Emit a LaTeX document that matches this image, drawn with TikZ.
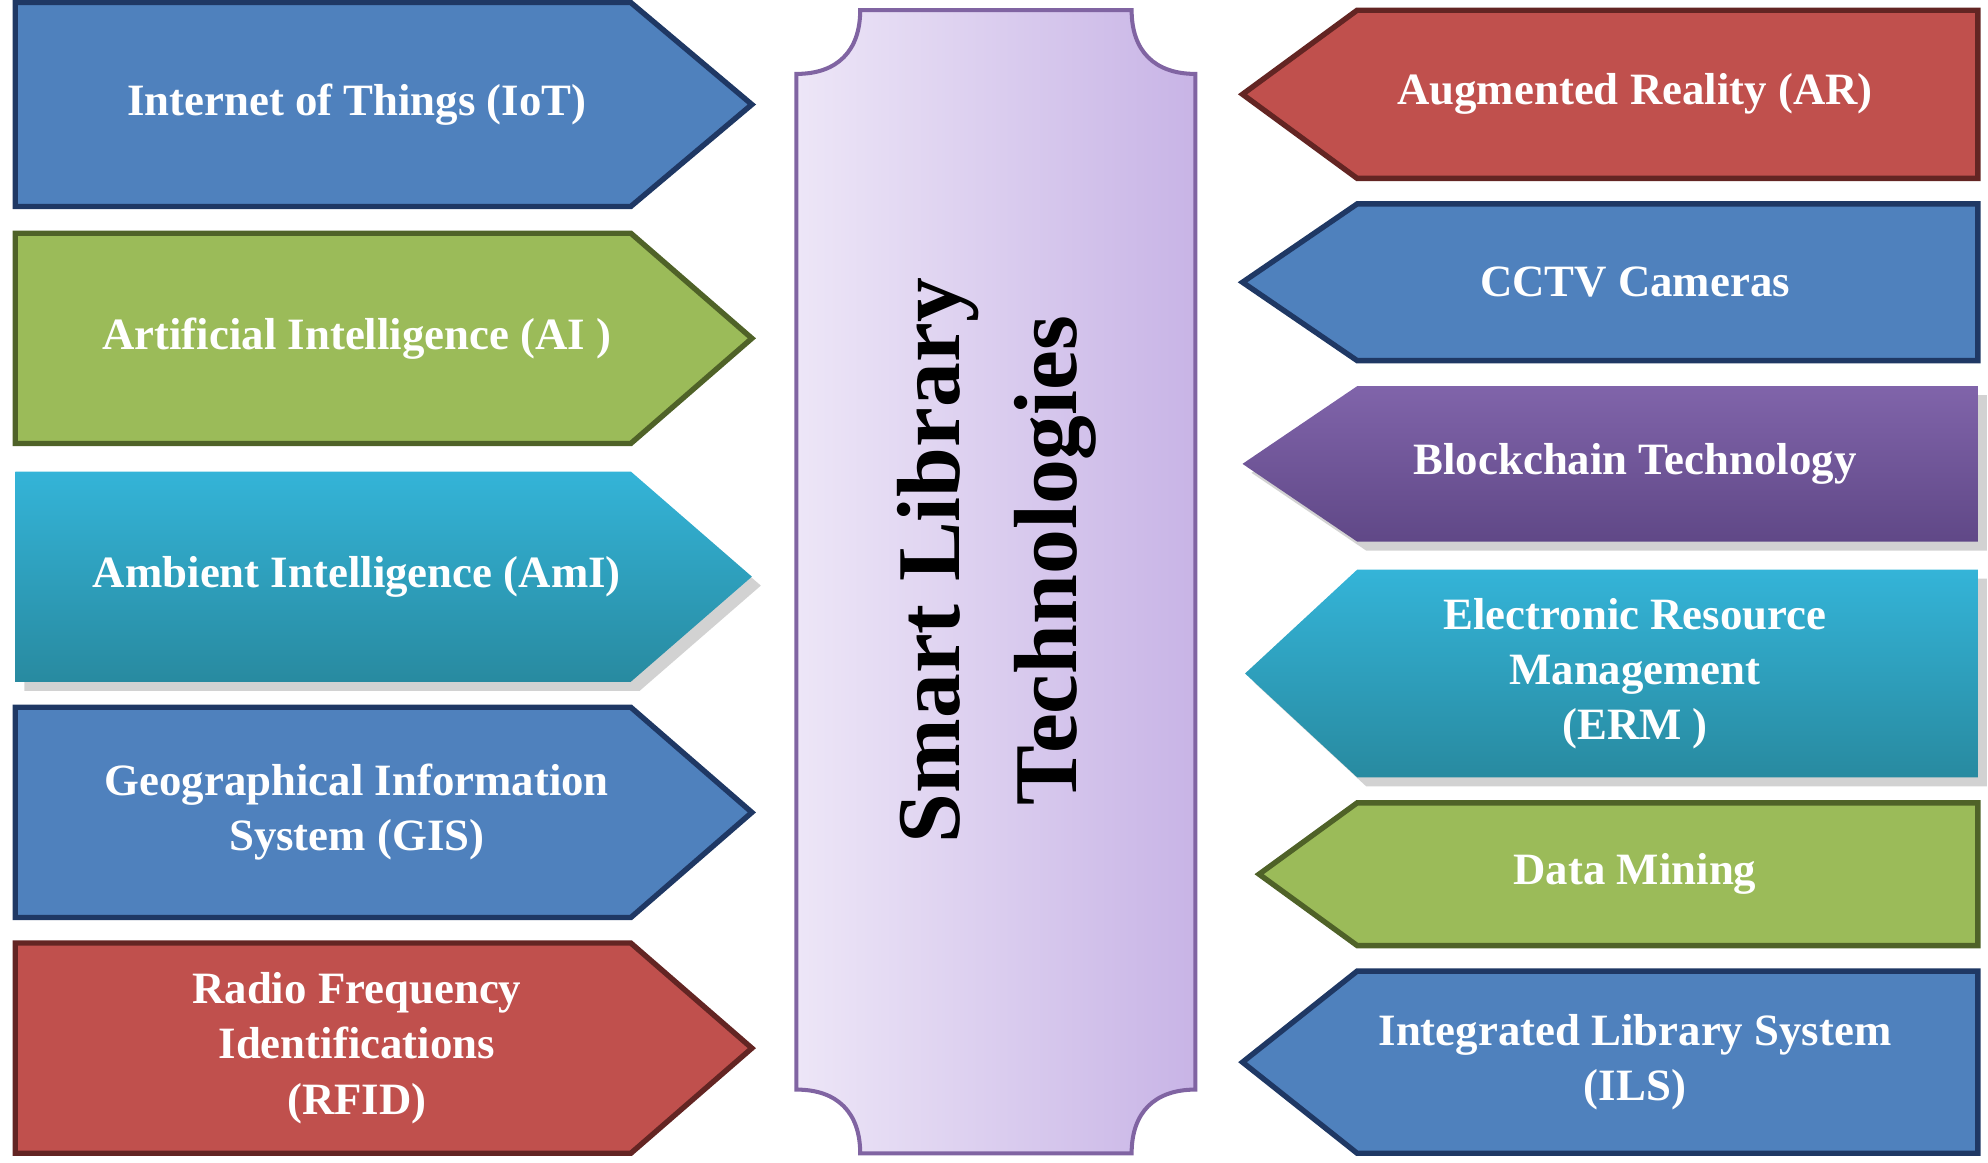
\documentclass[tikz,border=0pt]{standalone}
\usepackage{fontspec}
\setmainfont{Liberation Serif}
\usetikzlibrary{shadows}
\newcommand\LArrow[5]{\path[#4] (12,#1) -- (495,#1) -- (590,{(#1+#2)/2}) -- (495,#2) -- (12,#2) -- cycle;
  \node[lbl] (#5) at (280,{(#1+#2)/2}) {#3};}
\newcommand\RArrow[6]{\path[#4] (1552,#1) -- (1065,#1) -- (#6,{(#1+#2)/2}) -- (1065,#2) -- (1552,#2) -- cycle;
  \node[lbl] (#5) at (1283,{(#1+#2)/2}) {#3};}
\begin{document}
\begin{tikzpicture}[x=0.01cm,y=-0.01cm,
  lbl/.style={text=white,font=\fontsize{10}{12.3}\selectfont\bfseries,align=center},
  bluebox/.style={fill={rgb,255:red,79;green,129;blue,189},draw={rgb,255:red,31;green,56;blue,100},line width=1.2pt},
  greenbox/.style={fill={rgb,255:red,155;green,187;blue,89},draw={rgb,255:red,79;green,98;blue,40},line width=1.2pt},
  redbox/.style={fill={rgb,255:red,192;green,80;blue,77},draw={rgb,255:red,99;green,37;blue,35},line width=1.2pt},
  cyanbox/.style={top color={rgb,255:red,52;green,180;blue,216},bottom color={rgb,255:red,40;green,138;blue,160},draw=none,drop shadow={shadow xshift=2pt,shadow yshift=-2pt,fill=black!35}},
  purplebox/.style={top color={rgb,255:red,128;green,100;blue,170},bottom color={rgb,255:red,96;green,72;blue,135},draw=none,drop shadow={shadow xshift=2pt,shadow yshift=-2pt,fill=black!35}},
]
\useasboundingbox (0,0) rectangle (1560,912);
\LArrow{2}{162}{Internet of Things (IoT)}{bluebox}{nIoT}
\LArrow{183}{348}{Artificial Intelligence (AI )}{greenbox}{nAI}
\LArrow{370}{535}{Ambient Intelligence (AmI)}{cyanbox}{nAmI}
\LArrow{555}{720}{Geographical Information\\System (GIS)}{bluebox}{nGIS}
\LArrow{740}{905}{Radio Frequency\\Identifications\\(RFID)}{redbox}{nRFID}
\RArrow{8}{140}{Augmented Reality (AR)}{redbox}{nAR}{975}
\RArrow{160}{283}{CCTV Cameras}{bluebox}{nCCTV}{975}
\RArrow{303}{425}{Blockchain Technology}{purplebox}{nBC}{975}
\RArrow{447}{610}{Electronic Resource\\Management\\(ERM )}{cyanbox}{nERM}{977}
\RArrow{630}{742}{Data Mining}{greenbox}{nDM}{988}
\RArrow{762}{905}{Integrated Library System\\(ILS)}{bluebox}{nILS}{975}
\path[left color={rgb,255:red,237;green,230;blue,247},right color={rgb,255:red,200;green,180;blue,230},draw={rgb,255:red,128;green,100;blue,162},line width=0.9pt]
 (675,8) -- (888,8) .. controls (888,40) and (906,58) .. (938,58)
 -- (938,855) .. controls (906,855) and (888,873) .. (888,905)
 -- (675,905) .. controls (675,873) and (657,855) .. (625,855)
 -- (625,58) .. controls (657,58) and (675,40) .. (675,8) -- cycle;
\node[rotate=90,font=\fontsize{20}{26}\selectfont\bfseries,align=center] (title) at (782,440) {Smart Library\\Technologies};
\end{tikzpicture}
\end{document}
